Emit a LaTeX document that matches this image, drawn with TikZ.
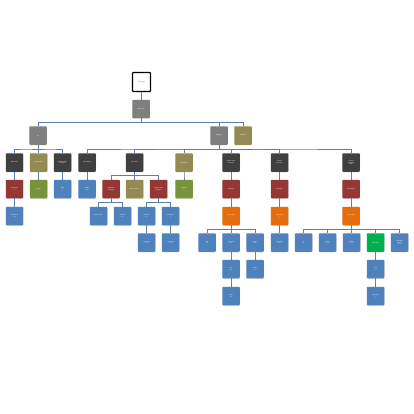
\documentclass[tikz,border=0pt]{standalone}
\usepackage{fontspec}
\setmainfont{Carlito}
\usetikzlibrary{calc,shadows}
\definecolor{boxgray}{HTML}{7F7F7F}
\definecolor{boxdark}{HTML}{3F3F3F}
\definecolor{boxolive}{HTML}{948A54}
\definecolor{boxred}{HTML}{953735}
\definecolor{boxorange}{HTML}{E46C0A}
\definecolor{boxblue}{HTML}{4F81BD}
\definecolor{boxgreen}{HTML}{00B050}
\definecolor{boxleaf}{HTML}{77933C}
\definecolor{linkblue}{HTML}{5A7FAA}
\tikzset{
  card/.style={rounded corners=0.4mm, minimum width=0.875cm, minimum height=0.925cm,
    text width=0.8cm, align=center, inner sep=0pt, text=white,
    font=\fontsize{2.2}{2.6}\selectfont,
    drop shadow={opacity=0.25, shadow xshift=0.2mm, shadow yshift=-0.3mm}},
  link/.style={draw=linkblue, line width=0.35mm}
}
\def\link(#1)(#2){\draw[link] (#1.south) |- ($(#1.south)!0.5!(#2.north)$) -| (#2.north);}

\begin{document}
\begin{tikzpicture}[x=0.05cm, y=-0.05cm]
		%%%%% START %%%%%
		\useasboundingbox[fill=white] (0, 0) rectangle (414, 414);
		
		\node[card, fill=white, draw=black, line width=0.6mm, text=black!60, minimum width=0.9cm, minimum height=0.95cm] (tech) at (141.5, 82) {Technology};
		\node[card, fill=boxgray] (cio) at (141, 109) {Group CIO};
		\link(tech)(cio)
		
		\node[card, fill=boxgray] (all) at (38, 135.5) {All};
		\node[card, fill=boxgray] (wls) at (219, 135.5) {Wireless\\1};
		\node[card, fill=boxolive] (ops) at (243, 135.5) {Operations};
		\link(cio)(all) \link(cio)(wls) \link(cio)(ops)
		
		% left branch
		\node[card, fill=boxdark] (retail) at (14.5, 162.5) {Retail Ops};
		\node[card, fill=boxolive] (dealer) at (38.5, 162.5) {Dealer Mgmt};
		\node[card, fill=boxdark] (chan) at (62.5, 162.5) {Channel Sales\\Network};
		\link(all)(retail) \link(all)(dealer) \link(all)(chan)
		
		\node[card, fill=boxred] (rmgr) at (14.5, 189) {Store Mgr\\1};
		\node[card, fill=boxleaf] (dsup) at (38.5, 189) {Support};
		\node[card, fill=boxblue] (cnet) at (62.5, 189) {NOC\\1};
		\node[card, fill=boxblue] (rstaff) at (14.5, 216) {Associates\\1/2};
		\link(retail)(rmgr) \link(dealer)(dsup) \link(chan)(cnet) \link(rmgr)(rstaff)
		
		% wireless branch
		\node[card, fill=boxdark] (bill) at (87, 162.5) {Store Billing};
		\node[card, fill=boxdark] (ecs) at (134.5, 162.5) {Store ECS};
		\node[card, fill=boxolive] (dist) at (184, 162.5) {Distribution};
		\node[card, fill=boxdark] (food) at (231, 162.5) {Vertical Food\\Landscape};
		\node[card, fill=boxdark] (pay) at (279.5, 162.5) {Vertical\\Payments};
		\node[card, fill=boxdark] (mkt) at (351, 162.5) {Vertical\\Marketing\\BBC};
		\link(wls)(bill) \link(wls)(ecs) \link(wls)(dist) \link(wls)(food) \link(wls)(pay) \link(wls)(mkt)
		
		\node[card, fill=boxblue] (bstaff) at (87, 189) {Billing\\3/4};
		\node[card, fill=boxred] (emgr) at (111, 189) {Operations\\Manager};
		\node[card, fill=boxolive] (eqa) at (134.5, 189) {Quality Assur.};
		\node[card, fill=boxred] (esys) at (158.5, 189) {Systems Lead\\Manager};
		\node[card, fill=boxleaf] (dlog) at (184, 189) {Logistics\\1};
		\link(bill)(bstaff) \link(ecs)(emgr) \link(ecs)(eqa) \link(ecs)(esys) \link(dist)(dlog)
		
		\node[card, fill=boxblue] (eops1) at (98.5, 216) {Business Ana.\\1};
		\node[card, fill=boxblue] (eops2) at (122.5, 216) {Analyst\\0/1};
		\node[card, fill=boxblue] (esys1) at (146.5, 216) {Architect\\1/1};
		\node[card, fill=boxblue] (esys2) at (170.5, 216) {Developers\\3};
		\link(emgr)(eops1) \link(emgr)(eops2) \link(esys)(esys1) \link(esys)(esys2)
		
		\node[card, fill=boxblue] (esys3) at (146.5, 242.5) {Sr. Developer\\1/2};
		\node[card, fill=boxblue] (esys4) at (170.5, 242.5) {Jr. Developer\\1/2};
		\link(esys1)(esys3) \link(esys2)(esys4)
		
		% vertical columns
		\node[card, fill=boxred] (fdir) at (231, 189) {Manager};
		\node[card, fill=boxred] (pdir) at (279.5, 189) {Manager};
		\node[card, fill=boxred] (mdir) at (351, 189) {BB Manager};
		\link(food)(fdir) \link(pay)(pdir) \link(mkt)(mdir)
		
		\node[card, fill=boxorange] (flead) at (231, 216) {Team Lead\\1};
		\node[card, fill=boxorange] (plead) at (279.5, 216) {Team Lead\\1};
		\node[card, fill=boxorange] (mlead) at (351, 216) {Team Lead\\1};
		\link(fdir)(flead) \link(pdir)(plead) \link(mdir)(mlead)
		
		\node[card, fill=boxblue] (f1) at (207, 242.5) {QA\\1/1};
		\node[card, fill=boxblue] (f2) at (231, 242.5) {Dev Lead\\1/1};
		\node[card, fill=boxblue] (f3) at (255, 242.5) {Support\\1/1};
		\node[card, fill=boxblue] (p1) at (279.5, 242.5) {Integration\\0/1};
		\link(flead)(f1) \link(flead)(f2) \link(flead)(f3) \link(plead)(p1)
		
		\node[card, fill=boxblue] (f4) at (231, 269) {Dev\\2/2};
		\node[card, fill=boxblue] (f5) at (255, 269) {Analyst\\1/1};
		\node[card, fill=boxblue] (f6) at (231, 296) {Tester\\1/1};
		\link(f2)(f4) \link(f3)(f5) \link(f4)(f6)
		
		\node[card, fill=boxblue] (m1) at (303.5, 242.5) {UI\\1};
		\node[card, fill=boxblue] (m2) at (327.5, 242.5) {Design\\1/1};
		\node[card, fill=boxblue] (m3) at (351.5, 242.5) {Content\\1/1};
		\node[card, fill=boxgreen] (m4) at (375.5, 242.5) {Web Team};
		\node[card, fill=boxblue] (m5) at (399.5, 242.5) {Marketing\\Analyst\\0/1};
		\link(mlead)(m1) \link(mlead)(m2) \link(mlead)(m3) \link(mlead)(m4) \link(mlead)(m5)
		
		\node[card, fill=boxblue] (m6) at (375.5, 269) {Lead\\1/1};
		\node[card, fill=boxblue] (m7) at (375.5, 296) {Developer\\1};
		\link(m4)(m6) \link(m6)(m7)
		
		%%%%% END %%%%%
\end{tikzpicture}
\end{document}
